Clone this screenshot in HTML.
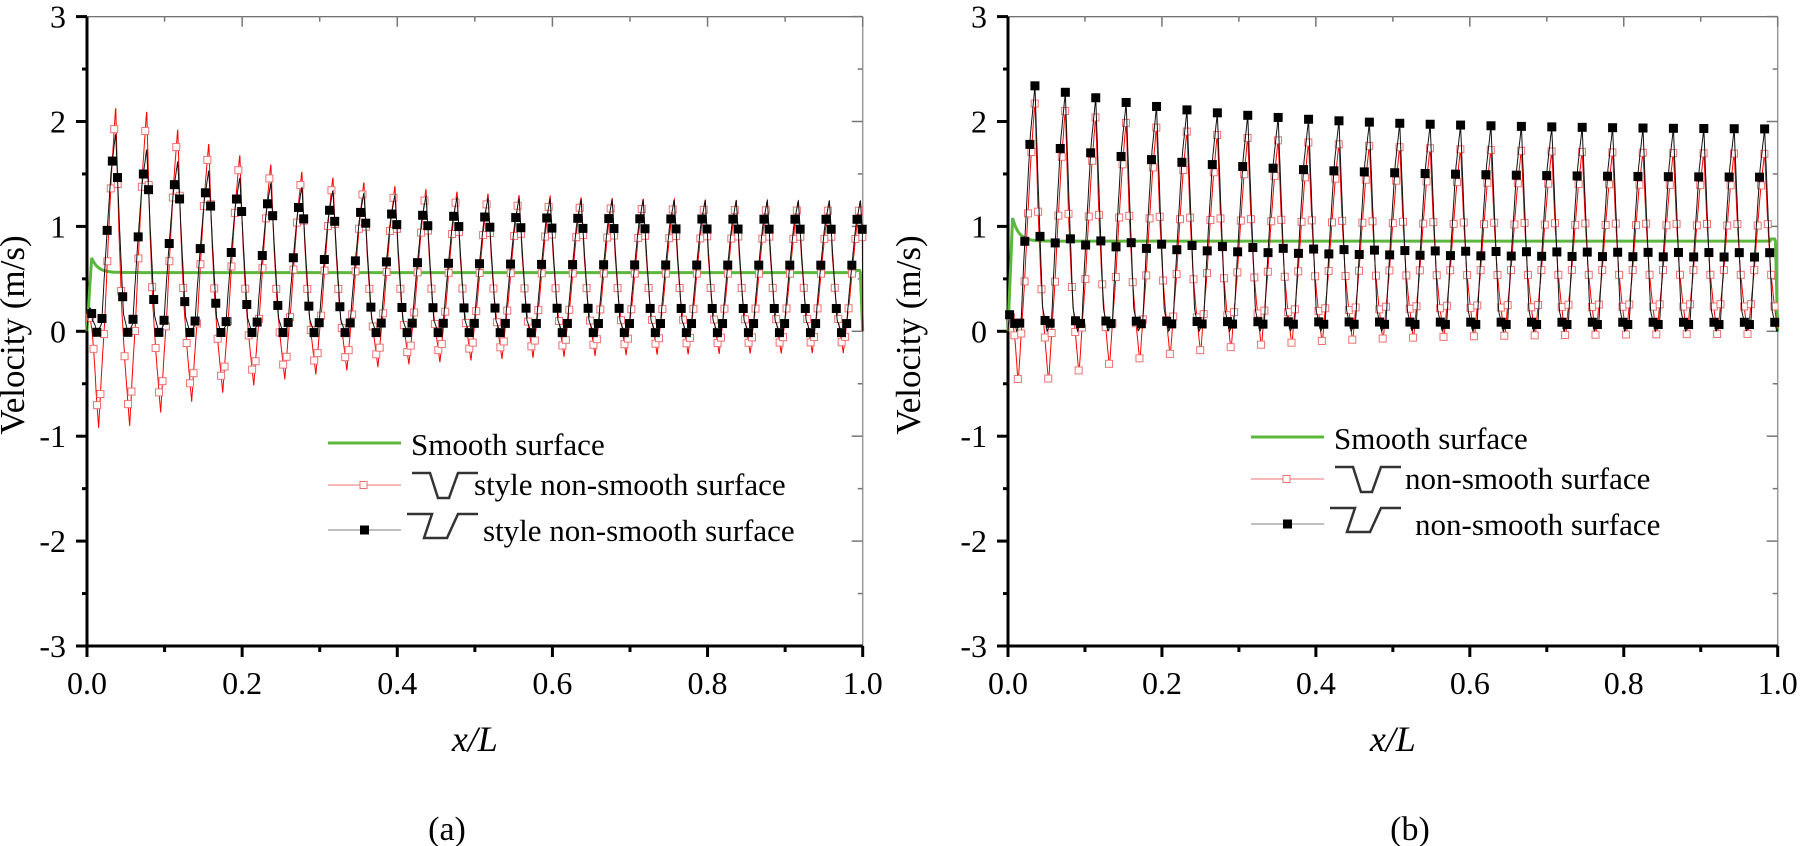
<!DOCTYPE html>
<html><head><meta charset="utf-8"><style>
html,body{margin:0;padding:0;background:#fff;}
svg{display:block;}
text{font-family:"Liberation Serif","Times New Roman",serif;}
</style></head><body>
<svg id="s" width="1804" height="846" viewBox="0 0 1804 846" xmlns="http://www.w3.org/2000/svg"></svg>
<script>
const S=document.getElementById('s');
let out='';
const FF='font-family="Liberation Serif, serif"';
function panel(o){
  const L=o.L,R=o.R,T=16.7,B=646;
  const X=v=>L+(R-L)*v, Y=v=>331.3-104.9*v;
  out+=`<line x1="${L}" y1="${T}" x2="${R}" y2="${T}" stroke="#444" stroke-width="1"/>`;
  out+=`<line x1="${R}" y1="${T}" x2="${R}" y2="${B}" stroke="#999" stroke-width="1.5"/>`;
  for(let i=0;i<=10;i++){const x=X(i/10);const len=i%2?5:10;
    out+=`<line x1="${x}" y1="${T}" x2="${x}" y2="${T+len}" stroke="#777" stroke-width="1.5"/>`;
    out+=`<line x1="${x}" y1="${B}" x2="${x}" y2="${B+len+1}" stroke="#000" stroke-width="3"/>`;
    if(i%2==0) out+=`<text ${FF} x="${x}" y="${694}" font-size="32" text-anchor="middle">${(i/10).toFixed(1)}</text>`;
  }
  for(let k=-6;k<=6;k++){const v=k/2,y=Y(v),len=k%2?5:11;
    out+=`<line x1="${L-len}" y1="${y}" x2="${L}" y2="${y}" stroke="#000" stroke-width="3"/>`;
    out+=`<line x1="${R-len}" y1="${y}" x2="${R}" y2="${y}" stroke="#777" stroke-width="1.5"/>`;
    if(k%2==0) out+=`<text ${FF} x="${L-21}" y="${y+11}" font-size="32" text-anchor="end">${v}</text>`;
  }
  out+=`<line x1="${L}" y1="${T}" x2="${L}" y2="${B+1.5}" stroke="#000" stroke-width="3"/>`;
  out+=`<line x1="${L-1.5}" y1="${B}" x2="${R}" y2="${B}" stroke="#000" stroke-width="3"/>`;
  const cx=(L+R)/2;
  out+=`<text ${FF} x="${cx}" y="751" font-size="36" font-style="italic" text-anchor="middle">x/L</text>`;
  out+=`<text ${FF} x="${o.capX}" y="840" font-size="34" text-anchor="middle">${o.cap}</text>`;
  out+=`<text ${FF} transform="translate(${o.ylx},335) rotate(-90)" font-size="35" text-anchor="middle">Velocity (m/s)</text>`;
  const interp=(pts,p)=>{for(let i=1;i<pts.length;i++){if(p<=pts[i][0]){const a=pts[i-1],b=pts[i];return a[1]+(b[1]-a[1])*(p-a[0])/(b[0]-a[0]);}}return pts[pts.length-1][1];};
  const redShape=[[0,1],[0.1,0.62],[0.2,0.36],[0.3,0.2],[0.45,0],[0.55,0.18],[0.65,0.34],[0.75,0.56],[0.87,0.8],[1,1]];
  const blkShape=[[0,1],[0.12,0.55],[0.25,0.1],[0.4,0],[0.55,0.05],[0.62,0.25],[0.72,0.5],[0.85,0.8],[1,1]];
  function val(x,shape,mx,mn){
    if(x<=0) return 0;
    let p=((x-o.pk)/o.P)%1; if(p<0)p+=1;
    let u=interp(shape,p);
    let v=mn(x)+(mx(x)-mn(x))*u;
    if(x<0.012) v=v*x/0.012;
    return v;
  }
  function series(shape,mx,mn,col,w){
    let d='';const N=2400;
    for(let i=0;i<=N;i++){const x=i/N;const v=i==N?0:val(x,shape,mx,mn);d+=(i?'L':'M')+X(x).toFixed(1)+','+Y(v).toFixed(1);}
    out+=`<path d="${d}" fill="none" stroke="${col}" stroke-width="${w}"/>`;
  }
  function marks(shape,mx,mn,n,off,type){
    const step=o.P/n;
    for(let x=off;x<1;x+=step){const v=val(x,shape,mx,mn);const px=X(x),py=Y(v);
      if(type=='r') out+=`<rect x="${px-3.5}" y="${py-3.5}" width="7" height="7" fill="#fff" stroke="#f07070" stroke-width="1"/>`;
      else out+=`<rect x="${px-4.5}" y="${py-4.5}" width="9" height="9" fill="#000"/>`;
    }
  }
  let g='';
  for(let i=0;i<=1000;i++){const x=i/1000;let v;
    if(x<0.006) v=o.gp*x/0.006; else v=o.gs+(o.gp-o.gs)*Math.exp(-(x-0.006)/0.008);
    if(x>0.99) v=o.gs+0.02; if(x>=0.997) v=(o.gs)*(1-(x-0.997)/0.003);
    g+=(i?'L':'M')+X(x).toFixed(1)+','+Y(v).toFixed(1);}
  out+=`<path d="${g}" fill="none" stroke="#5cb83c" stroke-width="3"/>`;
  series(redShape,o.rmx,o.rmn,'#ff0000',1);
  marks(redShape,o.rmx,o.rmn,9,0.004,'r');
  series(blkShape,o.bmx,o.bmn,'#111',1);
  marks(blkShape,o.bmx,o.bmn,6,o.boff,'b');
  const lg=o.lg;
  out+=`<line x1="${lg.x}" y1="${lg.y}" x2="${lg.x+73}" y2="${lg.y}" stroke="#5cb83c" stroke-width="3"/>`;
  out+=`<text ${FF} x="${lg.x+83}" y="${lg.y+12}" font-size="31">Smooth surface</text>`;
  let y2=lg.y+42,y3=lg.y+87;
  out+=`<line x1="${lg.x}" y1="${y2}" x2="${lg.x+73}" y2="${y2}" stroke="#f4a0a0" stroke-width="1.5"/>`;
  out+=`<rect x="${lg.x+32}" y="${y2-3.5}" width="7" height="7" fill="#fff" stroke="#f07070"/>`;
  out+=`<line x1="${lg.x}" y1="${y3}" x2="${lg.x+73}" y2="${y3}" stroke="#aaa" stroke-width="1.5"/>`;
  out+=`<rect x="${lg.x+32}" y="${y3-4.5}" width="9" height="9" fill="#000"/>`;
  const sx=lg.x+84;
  out+=`<path d="M${sx},${y2-12}H${sx+18}L${sx+26},${y2+13}H${sx+37}L${sx+46},${y2-12}H${sx+66}" fill="none" stroke="#333" stroke-width="2.5"/>`;
  out+=`<path d="M${sx-5},${y3-16}H${sx+20}L${sx+12},${y3+8}H${sx+35}L${sx+46},${y3-16}H${sx+66}" fill="none" stroke="#333" stroke-width="2.5"/>`;
  out+=`<text ${FF} x="${sx+lg.t2}" y="${y2+10}" font-size="31">${lg.s}non-smooth surface</text>`;
  out+=`<text ${FF} x="${sx+lg.t3}" y="${y3+11}" font-size="31">${lg.s}non-smooth surface</text>`;
}
panel({L:87,R:862.7,cap:'(a)',capX:447,ylx:24,P:0.04,pk:0.037,gp:0.7,gs:0.56,boff:0.006,
  rmx:x=>1.25+0.9*Math.exp(-Math.max(0,x-0.07)/0.18),
  rmn:x=>-0.2-0.72*Math.exp(-Math.max(0,x-0.05)/0.2),
  bmx:x=>1.25+0.65*Math.exp(-Math.max(0,x-0.035)/0.15),
  bmn:x=>-0.02,
  lg:{x:328,y:443,s:'style ',t2:62,t3:71}});
panel({L:1008,R:1777.7,cap:'(b)',capX:1410,ylx:920,P:0.0395,pk:0.035,gp:1.08,gs:0.86,boff:0.035-0.0395*5/6,
  rmx:x=>1.7+0.5*Math.exp(-Math.max(0,x-0.035)/0.25),
  rmn:x=>-0.05-0.45*Math.exp(-Math.max(0,x-0.05)/0.2),
  bmx:x=>1.92+0.42*Math.exp(-Math.max(0,x-0.035)/0.25),
  bmn:x=>0.0,
  lg:{x:1251,y:437,s:'',t2:70,t3:80}});
S.innerHTML=out;
</script>
</body></html>
